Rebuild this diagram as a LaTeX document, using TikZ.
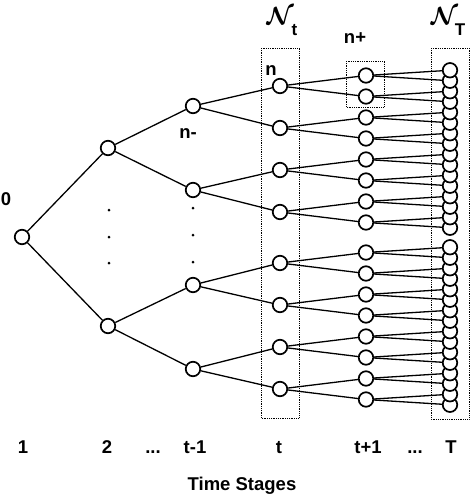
\documentclass[tikz,border=0pt]{standalone}
\usepackage{amsmath}
\usepackage{bm}
\usepackage{fontspec}
\setmainfont{Liberation Sans}
\pgfdeclarelayer{background}
\pgfsetlayers{background,main}
\newcommand{\fatN}{$\bm{\mathcal{N}}$}
\begin{document}
\begin{tikzpicture}[x=1pt,y=-1pt,
  st/.style={circle,draw,fill=white,line width=1.7pt,minimum size=14.5pt,inner sep=0pt},
  br/.style={line width=1.3pt},
  lab/.style={font=\bfseries\fontsize{18.5}{18.5}\selectfont,inner sep=0pt,anchor=base},
  box/.style={draw,line width=0.9pt,dash pattern=on 0.9pt off 0.9pt},
  dotm/.style={circle,fill,inner sep=0pt,minimum size=3pt}]
\useasboundingbox (0,0) rectangle (474,499);
% dotted boxes
\draw[box] (261,48) rectangle (299,418);
\draw[box] (431,48) rectangle (469,419);
\draw[box] (346,61) rectangle (384,107);
% nodes
\node[st] (r) at (22,237) {};
\node[st] (a1) at (108,148) {};
\node[st] (a2) at (108,326) {};
\node[st] (b1) at (193,106) {};
\node[st] (b2) at (193,190) {};
\node[st] (b3) at (193,285) {};
\node[st] (b4) at (193,369) {};
\foreach \i in {1,...,8} {
  \pgfmathsetmacro\cy{\i<5 ? 86+(\i-1)*42 : 263+(\i-5)*42}
  \node[st] (c\i) at (280,\cy) {};
}
\foreach \j in {1,...,16} {
  \pgfmathsetmacro\dy{\j<9 ? 75.5+(\j-1)*21 : 252.5+(\j-9)*21}
  \node[st] (d\j) at (366,\dy) {};
}
\foreach \k in {32,31,...,1} {
  \pgfmathsetmacro\ey{\k<17 ? 70.25+(\k-1)*10.5 : 247.25+(\k-17)*10.5}
  \node[st] (e\k) at (450,\ey) {};
}
% edges
\begin{pgfonlayer}{background}
\draw[br] (r) -- (a1);
\draw[br] (r) -- (a2);
\draw[br] (a1) -- (b1);
\draw[br] (a1) -- (b2);
\draw[br] (a2) -- (b3);
\draw[br] (a2) -- (b4);
\foreach \i in {1,...,8} {
  \pgfmathtruncatemacro\p{ceil(\i/2)}
  \draw[br] (b\p) -- (c\i);
}
\foreach \j in {1,...,16} {
  \pgfmathtruncatemacro\p{ceil(\j/2)}
  \draw[br] (c\p) -- (d\j);
}
\foreach \k in {1,...,32} {
  \pgfmathtruncatemacro\p{ceil(\k/2)}
  \draw[br] (d\p) -- (e\k);
}
\end{pgfonlayer}
% vertical dots
\node[dotm] (p1) at (109,210) {};
\node[dotm] (p2) at (109,237) {};
\node[dotm] (p3) at (109,263) {};
\node[dotm] (q1) at (193,208) {};
\node[dotm] (q2) at (193,235) {};
\node[dotm] (q3) at (193,262) {};
% labels
\node[lab] (l0) at (6,205) {0};
\node[lab] (lnm) at (188,138) {n-};
\node[lab] (ln) at (271,75) {n};
\node[lab] (lnp) at (355,43) {n+};
\node[anchor=base,inner sep=0pt] (Nt) at (282,24) {{\fontsize{26}{26}\selectfont\fatN}\hspace{-2pt}{\bfseries\fontsize{17}{17}\selectfont\raisebox{-11pt}{t}}};
\node[anchor=base,inner sep=0pt] (NT) at (448,24) {{\fontsize{26}{26}\selectfont\fatN}\hspace{-3pt}{\bfseries\fontsize{17}{17}\selectfont\raisebox{-11pt}{T}}};
\node[lab] (s1) at (23,453) {1};
\node[lab] (s2) at (107,453) {2};
\node[lab] (s3) at (153,453) {...};
\node[lab] (s4) at (195,453) {t-1};
\node[lab] (s5) at (279,453) {t};
\node[lab] (s6) at (368,453) {t+1};
\node[lab] (s7) at (415,453) {...};
\node[lab] (s8) at (451,453) {T};
\node[lab] (ts) at (242,490) {Time Stages};
\end{tikzpicture}
\end{document}
